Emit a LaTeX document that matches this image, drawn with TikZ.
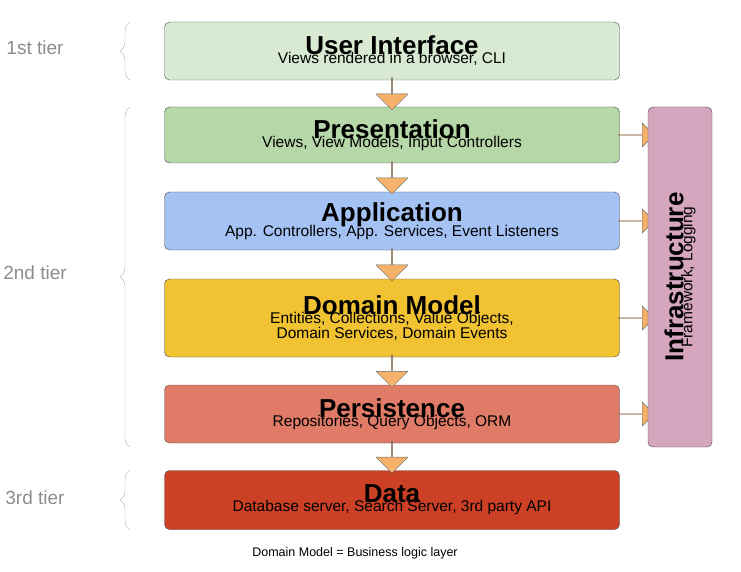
\documentclass[tikz,border=0pt]{standalone}
\usepackage{fontspec}
\setmainfont{Liberation Sans}
\usetikzlibrary{positioning,calc,shapes.arrows,decorations.pathreplacing}
\definecolor{uiC}{HTML}{D9EAD3}
\definecolor{prC}{HTML}{B6D7A8}
\definecolor{apC}{HTML}{A4C2F4}
\definecolor{dmC}{HTML}{F1C232}
\definecolor{peC}{HTML}{E07B67}
\definecolor{daC}{HTML}{CC4125}
\definecolor{inC}{HTML}{D5A6BD}
\definecolor{arC}{HTML}{F6B26B}
\newcommand{\lttl}{\fontsize{26}{28}\selectfont\bfseries}
\newcommand{\lsub}{\fontsize{15.5}{18}\selectfont}
\begin{document}
\begin{tikzpicture}[x=1pt,y=-1pt,
  layer/.style={draw=black!70,rounded corners=5pt,minimum width=455pt,align=center,inner sep=2pt},
  tier/.style={text=black!45,font=\fontsize{19}{21}\selectfont},
  blk/.style={single arrow,draw=black!60,fill=arC,minimum height=32pt,single arrow head extend=5pt,minimum width=32pt,inner sep=0pt},
  brc/.style={draw=black!30,decorate,decoration={brace,amplitude=10pt}}]
\useasboundingbox (0,0) rectangle (741,572);
\node[layer,fill=uiC,minimum height=58pt] (ui) at (392,51) {{\lttl User Interface}\\[-3pt]{\lsub Views rendered in a browser, CLI}};
\node[layer,fill=prC,minimum height=56pt] (pr) at (392,135) {{\lttl Presentation}\\[-3pt]{\lsub Views, View Models, Input Controllers}};
\node[layer,fill=apC,minimum height=58pt] (ap) at (392,221) {{\lttl Application}\\[-3pt]{\lsub App. Controllers, App. Services, Event Listeners}};
\node[layer,fill=dmC,minimum height=78pt] (dm) at (392,318) {{\lttl Domain Model}\\[-3pt]{\lsub Entities, Collections, Value Objects,}\\{\lsub Domain Services, Domain Events}};
\node[layer,fill=peC,minimum height=58pt] (pe) at (392,414) {{\lttl Persistence}\\[-3pt]{\lsub Repositories, Query Objects, ORM}};
\node[layer,fill=daC,minimum height=59pt] (da) at (392,500) {{\lttl Data}\\[-3pt]{\lsub Database server, Search Server, 3rd party API}};
% vertical arrows
\foreach \a/\b in {ui/pr,pr/ap,ap/dm,dm/pe,pe/da}
  \node[blk,shape border rotate=270] at ($(\a.south)!0.5!(\b.north)$) {};
% arrows to infrastructure
\foreach \a/\yy in {pr/135,ap/221,dm/318,pe/414}
  \node[blk,minimum height=36pt,minimum width=24pt] at (636,\yy) {};
\node[draw=black!70,fill=inC,rounded corners=5pt,minimum width=64pt,minimum height=340pt] (in) at (680,277) {};
\node[rotate=90,align=center] (inl) at (in.center) {{\lttl Infrastructure}\\[-3pt]{\lsub Framework, Logging}};
% tiers
\node[tier] (t1) at (35,48) {1st tier};
\node[tier] (t2) at (35,273) {2nd tier};
\node[tier] (t3) at (35,498) {3rd tier};
\draw[brc] (130,80) -- (130,22);
\draw[brc] (130,447) -- (130,107);
\draw[brc] (130,530) -- (130,470);
\node[font=\fontsize{12.5}{14}\selectfont] (cap) at (355,553) {Domain Model = Business logic layer};
\end{tikzpicture}
\end{document}
